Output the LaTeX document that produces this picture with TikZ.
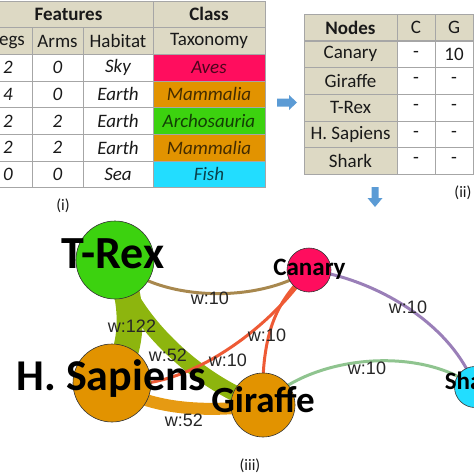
\documentclass[tikz,border=0pt]{standalone}
\usepackage{fontspec}
\setmainfont{Carlito}
\newfontfamily\wfont{Liberation Sans}
\usetikzlibrary{backgrounds}

\definecolor{hdrtan}{HTML}{DDD9C4}
\definecolor{gridgrey}{HTML}{A6A6A6}
\definecolor{aves}{HTML}{FF0D5E}
\definecolor{mamm}{HTML}{E29300}
\definecolor{archo}{HTML}{3CD20F}
\definecolor{fish}{HTML}{22DDFF}
\definecolor{arrowblue}{HTML}{5B9BD5}
\definecolor{olivelink}{HTML}{8DB50E}
\definecolor{orangelink}{HTML}{E69A12}
\definecolor{brownlink}{HTML}{A8884E}
\definecolor{redlink}{HTML}{EE5A35}
\definecolor{purplelink}{HTML}{9A7FB8}
\definecolor{greenlink}{HTML}{8FC48F}

\begin{document}
\fontsize{19}{22}\selectfont
\begin{tikzpicture}[x=1pt, y=-1pt,
   every node/.style={inner sep=0pt, text=black!90},
   cell/.style={draw=gridgrey, line width=0.8pt, minimum height=26.7pt},
   head/.style={cell, fill=hdrtan},
   caption/.style={font=\fontsize{16}{18}\selectfont},
   vert/.style={circle, draw=black!80, line width=0.6pt},
   vname/.style={anchor=base, text=black},
   wlabel/.style={font=\wfont\fontsize{18}{20}\selectfont, text=black!85}]

\useasboundingbox (0,0) rectangle (474,474);
\clip (0,0) rectangle (474,474);

% (i) features and class
\node[head, minimum width=169pt, font=\bfseries] (features) at (68.5,14.3) {Features};
\node[head, minimum width=112pt, font=\bfseries] (class) at (209,14.3) {Class};
\foreach \txt/\cx/\w [count=\i] in {Legs/8/48pt, Arms/57.5/51pt, Habitat/118/70pt, Taxonomy/209/112pt}
  \node[head, minimum width=\w] (sub\i) at (\cx,41) {\txt};
\foreach \legs/\arms/\hab/\tax/\col [count=\r] in
    {2/0/Sky/Aves/aves, 4/0/Earth/Mammalia/mamm, 2/2/Earth/Archosauria/archo,
     2/2/Earth/Mammalia/mamm, 0/0/Sea/Fish/fish} {
  \pgfmathsetmacro\cy{41+26.67*\r}
  \node[cell, minimum width=48pt, font=\itshape] (legs\r) at (8,\cy) {\legs};
  \node[cell, minimum width=51pt, font=\itshape] (arms\r) at (57.5,\cy) {\arms};
  \node[cell, minimum width=70pt, font=\itshape] (hab\r) at (118,\cy) {\hab};
  \node[cell, minimum width=112pt, fill=\col, text=\col!30!black, font=\itshape] (tax\r) at (209,\cy) {\tax};
}
\node[caption] (capi) at (63,206) {(i)};

\fill[arrowblue] (277,98.5) -- (289,98.5) -- (289,95) -- (297,102.5)
   -- (289,110) -- (289,106.5) -- (277,106.5) -- cycle;

% (ii) adjacency
\node[head, minimum width=93pt, font=\bfseries] (nodeshd) at (350.5,27.5) {Nodes};
\node[head, minimum width=38pt] (chd) at (416,27.5) {C};
\node[head, minimum width=38pt] (ghd) at (454,27.5) {G};
\foreach \nm/\c/\g [count=\r] in {Canary/-/10, Giraffe/-/-, T-Rex/-/-, H. Sapiens/-/-, Shark/-/-} {
  \pgfmathsetmacro\cy{27.6+26.67*\r}
  \node[head, minimum width=93pt] (nd\r) at (350.5,\cy) {\nm};
  \node[cell, minimum width=38pt] (c\r) at (416,\cy) {\c};
  \node[cell, minimum width=38pt] (g\r) at (454,\cy) {\g};
}
\node[caption] (capii) at (463,193) {(ii)};

\fill[arrowblue] (371.5,187) -- (378.5,187) -- (378.5,198) -- (382.5,198)
   -- (375,207) -- (367.5,198) -- (371.5,198) -- cycle;

% (iii) graph
\node[vert, fill=archo, minimum size=78pt] (trex) at (115,260) {};
\node[vert, fill=mamm, minimum size=78pt] (hsap) at (112,383) {};
\node[vert, fill=mamm, minimum size=64pt] (giraffe) at (263,405) {};
\node[vert, fill=aves, minimum size=44pt] (canary) at (309,270) {};
\node[vert, fill=fish, minimum size=41pt] (shark) at (475,387) {};

\begin{scope}[on background layer]
\draw[line width=26pt, olivelink] (trex.center) .. controls (135,300) and (135,345) .. (hsap.center);
\draw[line width=16pt, olivelink] (trex.center) .. controls (130,320) and (200,385) .. (giraffe.center);
\draw[line width=12pt, orangelink] (hsap.center) .. controls (150,412) and (215,412) .. (giraffe.center);
\draw[line width=3pt, brownlink] (trex.center) .. controls (160,303) and (260,303) .. (canary.center);
\draw[line width=3pt, redlink] (hsap.center) .. controls (180,395) and (270,330) .. (canary.center);
\draw[line width=3pt, redlink] (giraffe.center) .. controls (260,320) and (285,295) .. (canary.center);
\draw[line width=3pt, purplelink] (canary.center) .. controls (370,278) and (450,320) .. (shark.center);
\draw[line width=3pt, greenlink] (giraffe.center) .. controls (310,355) and (420,345) .. (shark.center);
\end{scope}

\node[wlabel] (w122) at (132,326) {w:122};
\node[wlabel] (w52a) at (168,355) {w:52};
\node[wlabel] (w52b) at (184,420) {w:52};
\node[wlabel] (w10a) at (210,298) {w:10};
\node[wlabel] (w10b) at (228,360) {w:10};
\node[wlabel] (w10c) at (267,335) {w:10};
\node[wlabel] (w10d) at (408,307) {w:10};
\node[wlabel] (w10e) at (367,368) {w:10};

\node[vname, font=\bfseries\fontsize{46}{46}\selectfont] (trexname) at (113,268) {T-Rex};
\node[vname, font=\bfseries\fontsize{44}{44}\selectfont] (hsapname) at (111.5,390) {H. Sapiens};
\node[vname, font=\bfseries\fontsize{37}{37}\selectfont] (girname) at (263,412) {Giraffe};
\node[vname, font=\bfseries\fontsize{25}{25}\selectfont] (canname) at (309.5,275) {Canary};
\node[vname, font=\bfseries\fontsize{25}{25}\selectfont] (sharkname) at (474,389) {Shark};

\node[caption] (capiii) at (250,466) {(iii)};
\end{tikzpicture}
\end{document}
